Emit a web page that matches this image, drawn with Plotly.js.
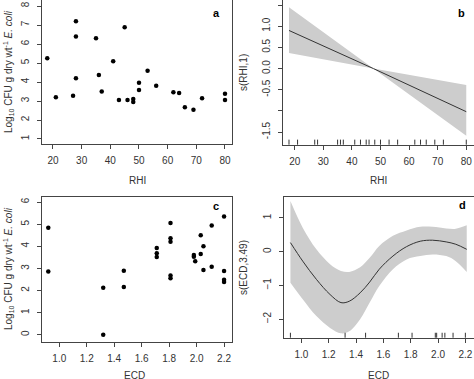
<!DOCTYPE html>
<html><head><meta charset="utf-8">
<script src="https://cdn.plot.ly/plotly-3.0.1.min.js"></script>
<style>html,body{margin:0;padding:0;background:#fff}#chart{width:474px;height:379px}</style>
</head><body><div id="chart"></div><script>
// Panel a: RHI vs log10 E. coli
const rhi  = [18,21,27,28,28,28,35,36,37,41,43,45,46,48,48,50,50,53,56,62,64,66,69,72,80,80];
const logA = [5.25,3.2,3.28,7.2,6.4,4.2,6.3,4.37,3.5,5.1,3.05,6.88,3.05,3.1,2.95,3.96,3.58,4.6,3.8,3.46,3.42,2.67,2.54,3.15,3.38,3.05];
// Panel b: smooth s(RHI,1)
const bX   = [18, 47.5, 80];
const bFit = [0.9, 0, -1.02];
const bUp  = [1.45, 0, -0.39];
const bLo  = [0.37, 0, -1.59];
// Panel c: ECD vs log10 E. coli
const ecd  = [0.92,0.92,1.32,1.32,1.47,1.47,1.71,1.71,1.71,1.81,1.81,1.81,1.81,1.81,1.98,1.98,1.99,2.03,2.03,2.05,2.05,2.11,2.11,2.2,2.2,2.2,2.2];
const logC = [4.84,2.86,2.12,0.0,2.89,2.16,3.92,3.68,3.51,5.05,4.36,4.2,2.68,2.55,3.6,3.52,3.32,4.5,3.65,4.0,2.92,4.94,3.07,5.34,2.88,2.48,2.38];
// Panel d: smooth s(ECD,3.49)
const dX   = [0.92,1.01,1.11,1.21,1.29,1.35,1.43,1.5,1.57,1.67,1.77,1.87,1.96,2.06,2.13,2.21];
const dFit = [0.27,-0.28,-0.82,-1.27,-1.51,-1.47,-1.22,-0.9,-0.52,-0.13,0.15,0.31,0.34,0.29,0.22,0.07];
const dUp  = [1.5,0.71,0.07,-0.37,-0.57,-0.6,-0.46,-0.18,0.17,0.47,0.63,0.74,0.74,0.69,0.68,0.78];
const dLo  = [-0.92,-1.41,-1.91,-2.26,-2.42,-2.36,-2.0,-1.51,-1.02,-0.52,-0.23,-0.13,-0.08,-0.13,-0.28,-0.6];

const yTitleA = 'Log<sub>10</sub> CFU g dry wt<sup>-1</sup> <i>E. coli</i>';
const ink = '#333333', band = '#cdcdcd';
const FONT = '"Liberation Sans", Arial, sans-serif';

const W = 474, H = 379;
const px = v => v / W, py = v => 1 - v / H;

const traces = [
  {x: rhi, y: logA, xaxis: 'x', yaxis: 'y', type: 'scatter', mode: 'markers',
   marker: {color: '#000', size: 4.5, symbol: 'circle'}},
  {x: bX, y: bLo, xaxis: 'x2', yaxis: 'y2', type: 'scatter', mode: 'lines', line: {width: 0, color: band}},
  {x: bX, y: bUp, xaxis: 'x2', yaxis: 'y2', type: 'scatter', mode: 'lines', fill: 'tonexty',
   fillcolor: band, line: {width: 0, color: band}},
  {x: bX, y: bFit, xaxis: 'x2', yaxis: 'y2', type: 'scatter', mode: 'lines', line: {width: 1, color: ink}},
  {x: ecd, y: logC, xaxis: 'x3', yaxis: 'y3', type: 'scatter', mode: 'markers',
   marker: {color: '#000', size: 4.5, symbol: 'circle'}},
  {x: dX, y: dLo, xaxis: 'x4', yaxis: 'y4', type: 'scatter', mode: 'lines', line: {width: 0, color: band, shape: 'spline'}},
  {x: dX, y: dUp, xaxis: 'x4', yaxis: 'y4', type: 'scatter', mode: 'lines', fill: 'tonexty',
   fillcolor: band, line: {width: 0, color: band, shape: 'spline'}},
  {x: dX, y: dFit, xaxis: 'x4', yaxis: 'y4', type: 'scatter', mode: 'lines', line: {width: 1, color: ink, shape: 'spline'}}
];

function ax(extra) {
  return Object.assign({
    showgrid: false, zeroline: false, showline: true, mirror: true,
    linecolor: '#444', linewidth: 1, ticks: 'outside', ticklen: 4, tickcolor: '#444',
    tickfont: {family: FONT, size: 10, color: ink}, fixedrange: true
  }, extra);
}
const xs = e => ax(Object.assign({ticklabelstandoff: 3}, e));
const ys = e => ax(Object.assign({ticklabelstandoff: 4, tickangle: -90}, e));

const shapes = [];
[...new Set(rhi)].forEach(v => shapes.push({type: 'line', xref: 'x2', yref: 'y2 domain', x0: v, x1: v, y0: 0, y1: 0.035, line: {color: ink, width: 1}}));
[...new Set(ecd)].forEach(v => shapes.push({type: 'line', xref: 'x4', yref: 'y4 domain', x0: v, x1: v, y0: 0, y1: 0.035, line: {color: ink, width: 1}}));

const tf = {family: FONT, size: 10, color: ink};
const lf = {family: FONT, size: 11, color: '#000', weight: 'bold'};
function ann(text, x, y, font, angle) {
  return {text, x: px(x), y: py(y), xref: 'paper', yref: 'paper', showarrow: false,
          xanchor: 'center', yanchor: 'middle', font, textangle: angle || 0};
}

const layout = {
  width: W, height: H, margin: {l: 0, r: 0, t: 0, b: 0},
  paper_bgcolor: '#fff', plot_bgcolor: '#fff', showlegend: false,
  xaxis:  xs({domain: [px(41.7), px(232.3)], range: [16.06, 82.55], tickvals: [20,30,40,50,60,70,80], anchor: 'y'}),
  yaxis:  ys({domain: [py(144.3), 1], range: [0.72, 8.32], tickvals: [1,2,3,4,5,6,7,8], anchor: 'x'}),
  xaxis2: xs({domain: [px(282.7), px(473.7)], range: [15.8, 82.6], tickvals: [20,30,40,50,60,70,80], anchor: 'y2'}),
  yaxis2: ys({domain: [py(144.7), 1], range: [-1.8, 1.62], tickvals: [1.5,1.0,0.5,0.0,-0.5,-1.0,-1.5],
              ticktext: ['1.5','1.0','0.5','0.0','-0.5',' ','-1.5'], anchor: 'x2'}),
  xaxis3: xs({domain: [px(41.7), px(232.3)], range: [0.872, 2.26], tickvals: [1.0,1.2,1.4,1.6,1.8,2.0,2.2], tickformat: '.1f', anchor: 'y3'}),
  yaxis3: ys({domain: [py(342), py(196.7)], range: [-0.33, 6.24], tickvals: [0,1,2,3,4,5,6], anchor: 'x3'}),
  xaxis4: xs({domain: [px(284), px(473.7)], range: [0.873, 2.261], tickvals: [1.0,1.2,1.4,1.6,1.8,2.0,2.2], tickformat: '.1f', anchor: 'y4'}),
  yaxis4: ys({domain: [py(337.7), py(196.7)], range: [-2.55, 1.63], tickvals: [-2,-1,0,1], anchor: 'x4'}),
  shapes,
  annotations: [
    ann(yTitleA, 8, 72, tf, -90),
    ann(yTitleA, 8, 269, tf, -90),
    ann('s(RHI,1)', 243, 72, tf, -90),
    ann('s(ECD,3.49)', 243, 267, tf, -90),
    ann('RHI', 137, 180, tf),
    ann('RHI', 378.5, 180, tf),
    ann('ECD', 134, 375, tf),
    ann('ECD', 378, 375, tf),
    ann('a', 216, 13, lf),
    ann('b', 461.5, 13, lf),
    ann('c', 216, 206, lf),
    ann('d', 462, 205, lf)
  ]
};

Plotly.newPlot('chart', traces, layout, {displayModeBar: false, staticPlot: true});
</script></body></html>
